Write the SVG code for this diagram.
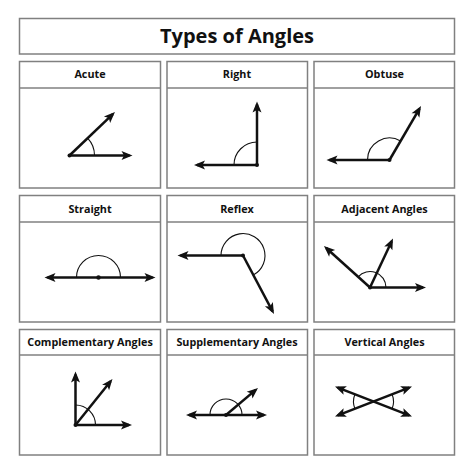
<svg xmlns="http://www.w3.org/2000/svg" width="474" height="474" viewBox="0 0 474 474">
<style>
.box{fill:#fff;stroke:#808080;stroke-width:1.5}
.hdr{font-family:"Open Sans","Liberation Sans",sans-serif;font-weight:bold;font-size:10.8px;fill:#111;text-anchor:middle}
.ttl{font-family:"Open Sans","Liberation Sans",sans-serif;font-weight:bold;font-size:20px;fill:#111;text-anchor:middle}
.ray{stroke:#111;stroke-width:2.5;fill:none;marker-end:url(#ah)}
.ray2{stroke:#111;stroke-width:2.5;fill:none;marker-end:url(#ah);marker-start:url(#ah)}
.arc{stroke:#111;stroke-width:1.1;fill:none}
.dot{fill:#111}
</style>
<defs>
<marker id="ah" markerUnits="userSpaceOnUse" viewBox="-10 -6 14 12" refX="0" refY="0" markerWidth="14" markerHeight="12" orient="auto-start-reverse">
<path d="M3,0 L-8,-4.5 L-5.5,0 L-8,4.5 z" fill="#111"/>
</marker>
</defs>
<rect width="474" height="474" fill="#fff"/>
<g id="title">
<rect class="box" x="19.5" y="18.5" width="435" height="35.5"/>
<text class="ttl" x="237" y="43">Types of Angles</text>
</g>
<g id="panels">
<g id="acute">
<rect class="box" x="19.5" y="61.5" width="141" height="126.5"/>
<line x1="19.5" y1="88" x2="160.5" y2="88" stroke="#808080" stroke-width="1.5"/>
<text class="hdr" x="90" y="78.3">Acute</text>
<path class="arc" d="M94.5,155.5 A25,25 0 0 0 87.6,138.2"/>
<line class="ray" x1="69.5" y1="155.5" x2="129.5" y2="155.5"/>
<line class="ray" x1="69.5" y1="155.5" x2="112.8" y2="114.1"/>
<circle class="dot" cx="69.5" cy="155.5" r="2"/>
</g>
<g id="right">
<rect class="box" x="167" y="61.5" width="140.5" height="126.5"/>
<line x1="167" y1="88" x2="307.5" y2="88" stroke="#808080" stroke-width="1.5"/>
<text class="hdr" x="237" y="78.3">Right</text>
<path class="arc" d="M234,165 A23,23 0 0 1 257,142"/>
<line class="ray" x1="257" y1="165" x2="257" y2="104.5"/>
<line class="ray" x1="257" y1="165" x2="197" y2="165"/>
<circle class="dot" cx="257" cy="165" r="2"/>
</g>
<g id="obtuse">
<rect class="box" x="314" y="61.5" width="140.5" height="126.5"/>
<line x1="314" y1="88" x2="454.5" y2="88" stroke="#808080" stroke-width="1.5"/>
<text class="hdr" x="384.5" y="78.3">Obtuse</text>
<path class="arc" d="M367.5,160 A22,22 0 0 1 400.6,141"/>
<line class="ray" x1="389.5" y1="160" x2="329.5" y2="160"/>
<line class="ray" x1="389.5" y1="160" x2="419.5" y2="108.6"/>
<circle class="dot" cx="389.5" cy="160" r="2"/>
</g>
<g id="straight">
<rect class="box" x="19.5" y="195.5" width="141" height="126.5"/>
<line x1="19.5" y1="222" x2="160.5" y2="222" stroke="#808080" stroke-width="1.5"/>
<text class="hdr" x="90" y="213">Straight</text>
<path class="arc" d="M76.5,277.5 A22,22 0 0 1 120.5,277.5"/>
<line class="ray2" x1="47.5" y1="277.5" x2="152.5" y2="277.5"/>
<circle class="dot" cx="98.5" cy="277.5" r="2.2"/>
</g>
<g id="reflex">
<rect class="box" x="167" y="195.5" width="140.5" height="126.5"/>
<line x1="167" y1="222" x2="307.5" y2="222" stroke="#808080" stroke-width="1.5"/>
<text class="hdr" x="237" y="213">Reflex</text>
<path class="arc" d="M221,255.5 A22,22 0 1 1 253.3,275"/>
<line class="ray" x1="243" y1="255.5" x2="180.5" y2="255.5"/>
<line class="ray" x1="243" y1="255.5" x2="272.6" y2="311.3"/>
<circle class="dot" cx="243" cy="255.5" r="2"/>
</g>
<g id="adjacent">
<rect class="box" x="314" y="195.5" width="140.5" height="126.5"/>
<line x1="314" y1="222" x2="454.5" y2="222" stroke="#808080" stroke-width="1.5"/>
<text class="hdr" x="384.5" y="213">Adjacent Angles</text>
<path class="arc" d="M358.1,276.8 A16,16 0 0 1 386,287.5"/>
<line class="ray" x1="370" y1="287.5" x2="423" y2="287.5"/>
<line class="ray" x1="370" y1="287.5" x2="326.2" y2="248"/>
<line class="ray" x1="370" y1="287.5" x2="391.7" y2="241.2"/>
<circle class="dot" cx="370" cy="287.5" r="2"/>
</g>
<g id="complementary">
<rect class="box" x="19.5" y="329.5" width="141" height="125.5"/>
<line x1="19.5" y1="355" x2="160.5" y2="355" stroke="#808080" stroke-width="1.5"/>
<text class="hdr" x="90" y="346">Complementary Angles</text>
<path class="arc" d="M75.5,405 A20,20 0 0 1 95.5,425"/>
<line class="ray" x1="75.5" y1="425" x2="75.5" y2="374.5"/>
<line class="ray" x1="75.5" y1="425" x2="129" y2="425"/>
<line class="ray" x1="75.5" y1="425" x2="110.6" y2="381.3"/>
<circle class="dot" cx="75.5" cy="425" r="2"/>
</g>
<g id="supplementary">
<rect class="box" x="167" y="329.5" width="140.5" height="125.5"/>
<line x1="167" y1="355" x2="307.5" y2="355" stroke="#808080" stroke-width="1.5"/>
<text class="hdr" x="237" y="346">Supplementary Angles</text>
<path class="arc" d="M210,415 A16,16 0 0 1 242,415"/>
<line class="ray2" x1="189" y1="415" x2="264" y2="415"/>
<line class="ray" x1="226" y1="415" x2="255.7" y2="389.9"/>
<circle class="dot" cx="226" cy="415" r="2"/>
</g>
<g id="vertical">
<rect class="box" x="314" y="329.5" width="140.5" height="125.5"/>
<line x1="314" y1="355" x2="454.5" y2="355" stroke="#808080" stroke-width="1.5"/>
<text class="hdr" x="384.5" y="346">Vertical Angles</text>
<path class="arc" d="M354.9,394.2 A20,20 0 0 0 354.9,408.8"/>
<path class="arc" d="M392.1,394.2 A20,20 0 0 1 392.1,408.8"/>
<line class="ray2" x1="337.8" y1="387.6" x2="409.2" y2="415.4"/>
<line class="ray2" x1="337.8" y1="415.4" x2="409.2" y2="387.6"/>
</g>
</g>
<g id="connectors"/>
</svg>
